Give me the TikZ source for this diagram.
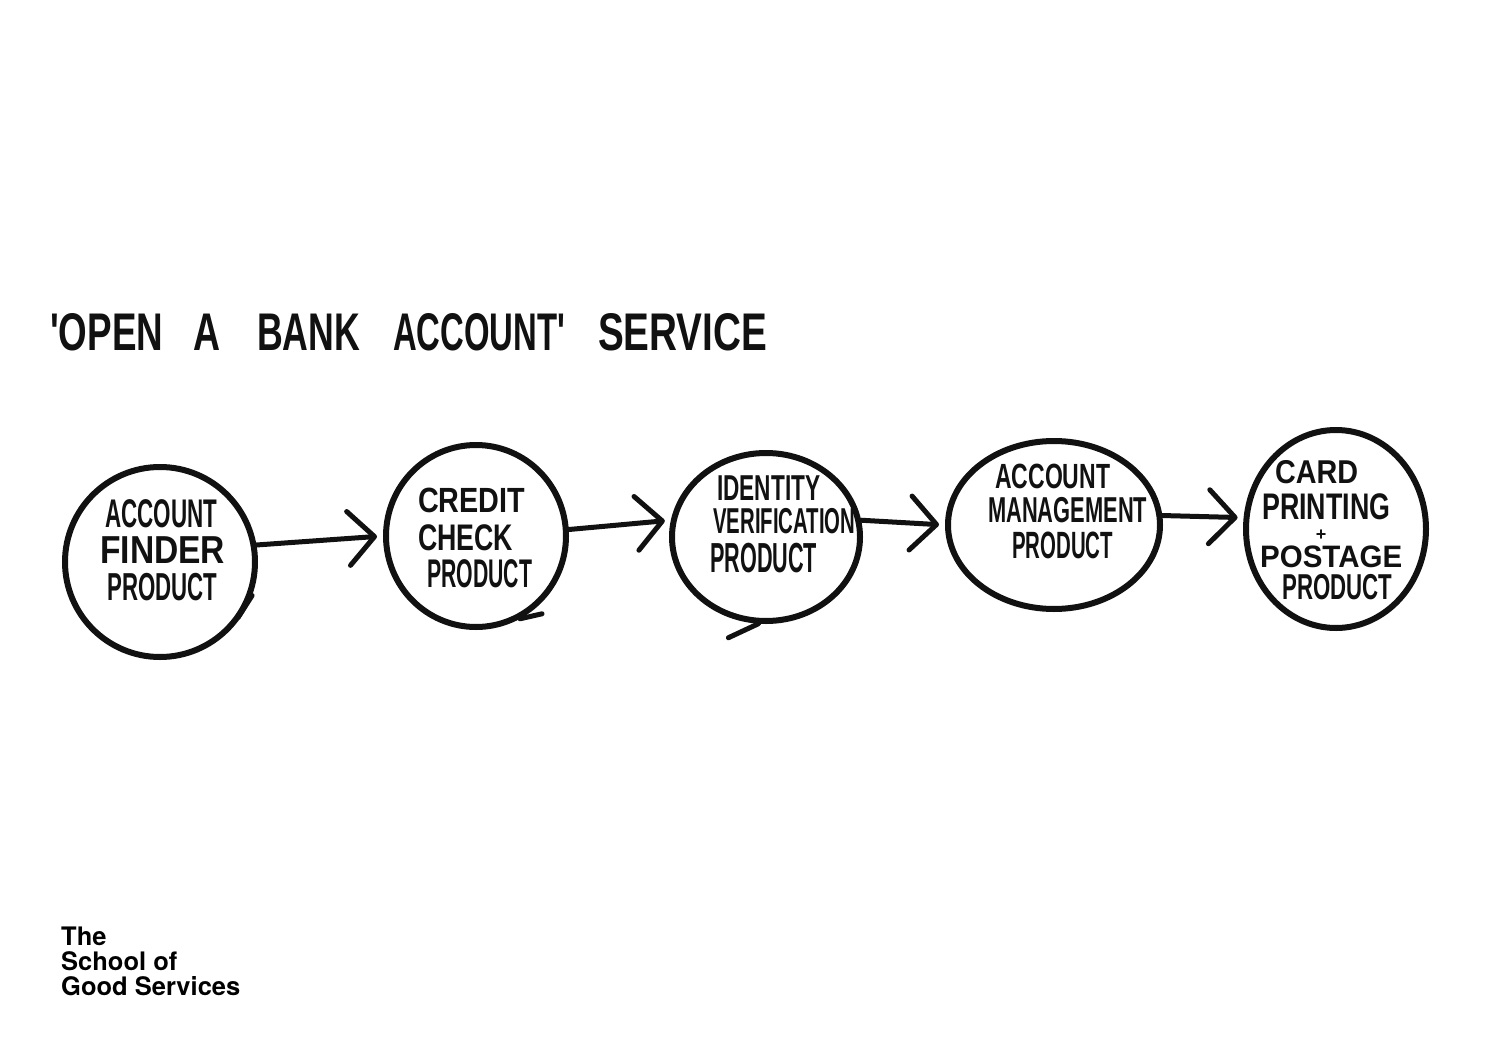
\documentclass[tikz,border=0pt]{standalone}
\usepackage{fontspec}
\usepackage{graphicx}
\usetikzlibrary{shapes.geometric,arrows.meta}
\newfontfamily\handfont{Liberation Sans}
\newfontfamily\logofont{TeX Gyre Heros}
\definecolor{ink}{HTML}{111111}
\newcommand\hw[2]{\resizebox{#1}{\height}{#2}}
\begin{document}
\begin{tikzpicture}[x=1pt,y=-1pt,
  bubble/.style={ellipse,draw=ink,line width=6pt,inner sep=0pt},
  hand/.style={text=ink,inner sep=0pt,anchor=base west,font=\handfont\bfseries\fontsize{#1}{#1}\selectfont},
  hand/.default=38,
  flow/.style={draw=ink,line width=5pt,line cap=round,line join=round,
    -{Straight Barb[length=26pt,width=54pt,line cap=round,line join=round]},shorten >=6pt},
  tail/.style={draw=ink,line width=5pt,line cap=round}]
\useasboundingbox (0,0) rectangle (1500,1057);
\fill[white] (0,0) rectangle (1500,1057);

% title
\node[hand=53] (w1) at (50,350) {\hw{113pt}{'OPEN}};
\node[hand=53] (w2) at (193,350) {\hw{27pt}{A}};
\node[hand=53] (w3) at (257,350) {\hw{103pt}{BANK}};
\node[hand=53] (w4) at (393,350) {\hw{172pt}{ACCOUNT'}};
\node[hand=53] (w5) at (598,350) {\hw{169pt}{SERVICE}};

% bubbles
\node[bubble,minimum width=190pt,minimum height=190pt] (c1) at (160,562) {};
\node[bubble,minimum width=180pt,minimum height=182pt] (c2) at (476,536) {};
\node[bubble,minimum width=188pt,minimum height=168pt] (c3) at (766,537) {};
\node[bubble,minimum width=212pt,minimum height=168pt] (c4) at (1054,525) {};
\node[bubble,minimum width=180pt,minimum height=198pt] (c5) at (1336,529) {};

% little pen overshoots
\draw[tail] (c1.-20) -- ++(-14,22);
\draw[tail] (c2.-62) -- ++(22,-5);
\draw[tail] (c3.-95) -- ++(-30,14);

% labels
\node[hand=40] (t1a) at (105,527) {\hw{112pt}{ACCOUNT}};
\node[hand=39] (t1b) at (100,563) {\hw{125pt}{FINDER}};
\node[hand=39] (t1c) at (107,600) {\hw{110pt}{PRODUCT}};

\node[hand=35] (t2a) at (418,512) {\hw{107pt}{CREDIT}};
\node[hand=37] (t2b) at (418,550) {\hw{95pt}{CHECK}};
\node[hand=40] (t2c) at (427,587) {\hw{105pt}{PRODUCT}};

\node[hand=36] (t3a) at (717,500) {\hw{103pt}{IDENTITY}};
\node[hand=36] (t3b) at (713,533) {\hw{142pt}{VERIFICATION}};
\node[hand=42] (t3c) at (710,572) {\hw{107pt}{PRODUCT}};

\node[hand=35] (t4a) at (995,488) {\hw{115pt}{ACCOUNT}};
\node[hand=36] (t4b) at (988,522) {\hw{159pt}{MANAGEMENT}};
\node[hand=38] (t4c) at (1012,558) {\hw{101pt}{PRODUCT}};

\node[hand=33] (t5a) at (1275,483) {\hw{83pt}{CARD}};
\node[hand=37] (t5b) at (1262,519) {\hw{128pt}{PRINTING}};
\node[hand=18,anchor=center] (t5c) at (1321,535) {+};
\node[hand=31] (t5d) at (1260,567) {\hw{142pt}{POSTAGE}};
\node[hand=36] (t5e) at (1282,599) {\hw{110pt}{PRODUCT}};

% connectors
\draw[flow] (c1.10) -- (c2.west);
\draw[flow] (c2.4) -- (c3.170);
\draw[flow] (c3.10) -- (c4.west);
\draw[flow] (c4.5) -- (c5.173);

% logo
\node[anchor=north west,align=left,inner sep=0pt,text=black,
  font=\logofont\bfseries\fontsize{25.5}{25}\selectfont] (logo) at (61,927)
  {The\\School of\\Good Services};
\end{tikzpicture}
\end{document}
